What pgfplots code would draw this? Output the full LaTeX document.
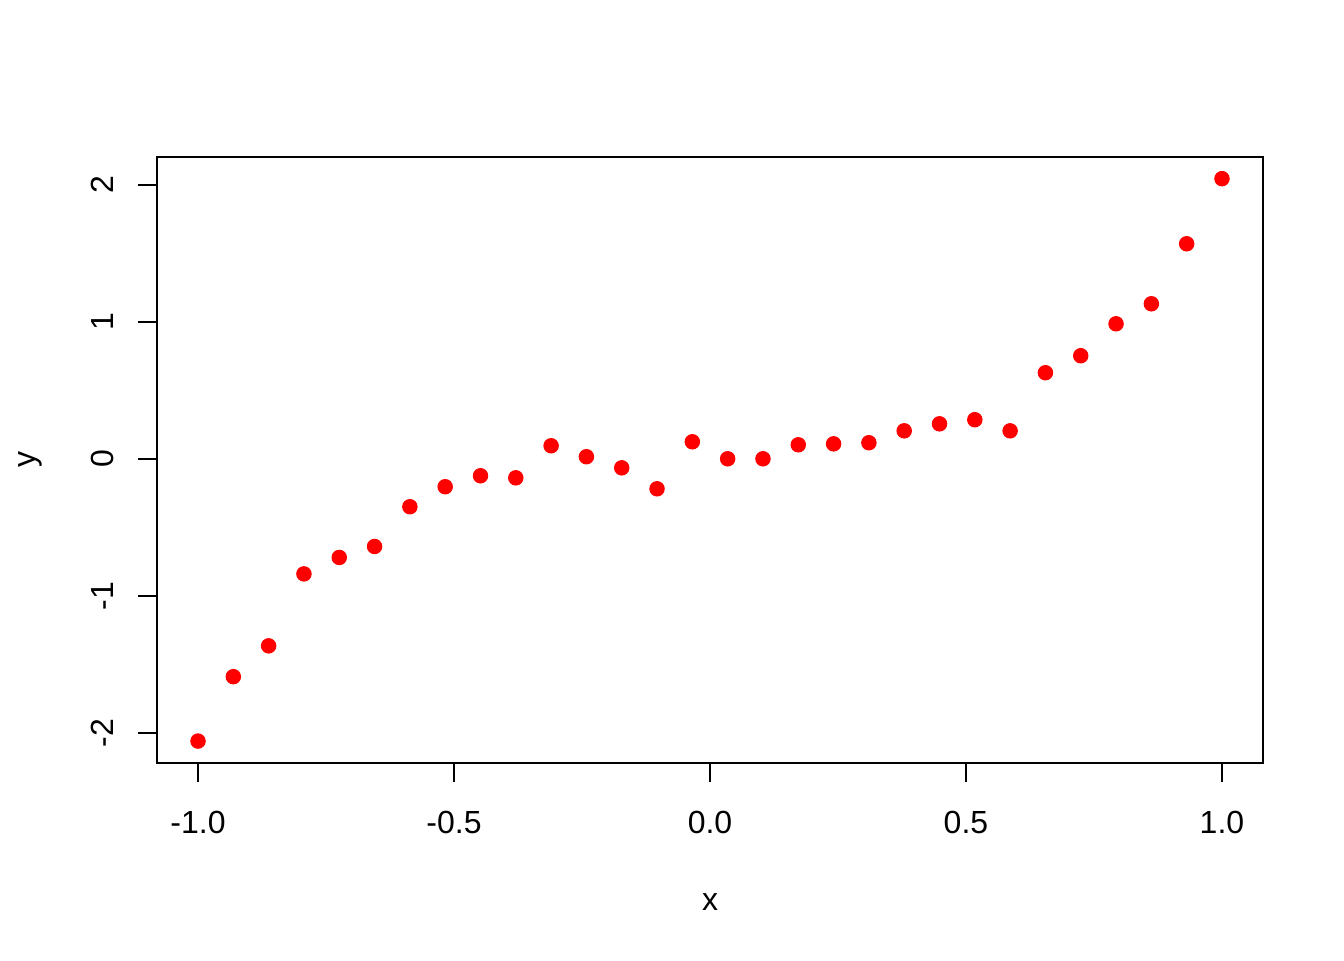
\documentclass[border=0pt]{standalone}
\usepackage{fontspec}
\setmainfont{Liberation Sans}
\usepackage{pgfplots}
\pgfplotsset{compat=1.18}
\begin{document}
\fontsize{12}{14.4}\selectfont
\begin{tikzpicture}
\path[use as bounding box] (0,0) rectangle (504pt,360pt);
\begin{axis}[
  at={(58.9pt,73.9pt)}, anchor=south west,
  scale only axis, width=414.7pt, height=227.3pt,
  xmin=-1.08, xmax=1.08, ymin=-2.2195, ymax=2.2035,
  axis line style={line width=0.75pt},
  every tick/.style={black, line width=0.75pt},
  tick align=outside, major tick length=7.2pt,
  xtick={-1,-0.5,0,0.5,1}, xticklabels={-1.0,-0.5,0.0,0.5,1.0},
  ytick={-2,-1,0,1,2}, yticklabels={-2,-1,0,1,2},
  xtick pos=bottom, ytick pos=left,
  xticklabel style={anchor=base, inner sep=0pt, yshift=-19.1pt},
  yticklabel style={rotate=90, anchor=base, inner sep=0pt, yshift=9.3pt},
  font=\fontsize{12}{14.4}\selectfont,
  xlabel={x}, ylabel={y},
  xlabel style={at={(axis description cs:0.5,0)}, anchor=base, inner sep=0pt, yshift=-55.5pt},
  ylabel style={at={(axis description cs:0,0.5)}, anchor=base, inner sep=0pt, yshift=45.7pt},
]
\addplot[only marks, mark=*, mark size=2.7pt, red, mark options={fill=red, draw=red}] coordinates {
(-1.000000,-2.060)
(-0.931034,-1.590)
(-0.862069,-1.365)
(-0.793103,-0.840)
(-0.724138,-0.720)
(-0.655172,-0.640)
(-0.586207,-0.350)
(-0.517241,-0.204)
(-0.448276,-0.124)
(-0.379310,-0.139)
(-0.310345,0.095)
(-0.241379,0.015)
(-0.172414,-0.066)
(-0.103448,-0.219)
(-0.034483,0.124)
(0.034483,0.000)
(0.103448,0.000)
(0.172414,0.102)
(0.241379,0.109)
(0.310345,0.117)
(0.379310,0.204)
(0.448276,0.255)
(0.517241,0.285)
(0.586207,0.204)
(0.655172,0.628)
(0.724138,0.752)
(0.793103,0.985)
(0.862069,1.131)
(0.931034,1.569)
(1.000000,2.044)
};
\end{axis}
\end{tikzpicture}
\end{document}
